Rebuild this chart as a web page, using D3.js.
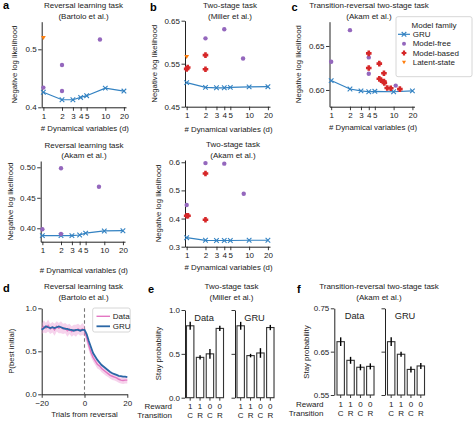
<!DOCTYPE html>
<html>
<head>
<meta charset="utf-8">
<script src="https://cdn.jsdelivr.net/npm/d3@7"></script>
<style>
  body { margin: 0; background: #fff; }
  text { font-family: "Liberation Sans", Arial, sans-serif; fill: #222; }
</style>
</head>
<body>
<div id="chart"></div>
<script>
// ---- data ----
const dims = [1, 2, 3, 4, 5, 10, 20];
const dimTicks = [1, 2, 3, 4, 5, 10, 20];

// a (top): reversal learning, Bartolo
const gruBartoloRev = [0.426, 0.413, 0.413, 0.417, 0.420, 0.433, 0.428];
const mfBartoloRev = [[1, 0.434], [2, 0.473], [2, 0.428], [8.2, 0.517]];
const lsBartoloRev = [[1, 0.520]];

// b (top): two-stage, Miller
const gruMiller = [0.506, 0.495, 0.494, 0.494, 0.495, 0.496, 0.4965];
const mfMiller = [[2, 0.609], [4, 0.630], [8, 0.562]];
const mbMiller = [[1, 0.538], [1.04, 0.541], [2, 0.570], [2, 0.537]];
const lsMiller = [[1, 0.566]];

// c: transition-reversal two-stage, Akam
const gruAkamTR = [0.6107, 0.6011, 0.599, 0.598, 0.5985, 0.598, 0.599];
const mfAkamTR = [[1, 0.632], [2, 0.668], [4, 0.637], [4, 0.6185], [10.8, 0.605]];
const mbAkamTR = [[4, 0.6416], [4, 0.625], [5.9, 0.630], [5.9, 0.6127], [6.3, 0.611],
                  [7, 0.619], [7, 0.6096], [7.1, 0.608], [7.9, 0.6023], [9, 0.602], [12.6, 0.601]];

// a (bottom): reversal learning, Akam
const gruAkamRev = [0.388, 0.388, 0.388, 0.389, 0.392, 0.3956, 0.396];
const mfAkamRev = [[1, 0.3984], [2, 0.3907], [2, 0.4984], [8.2, 0.468]];

// b (bottom): two-stage, Akam
const gruAkamTS = [0.332, 0.3228, 0.322, 0.322, 0.322, 0.323, 0.323];
const mfAkamTS = [[1, 0.448], [2, 0.597], [4, 0.595], [8.2, 0.488]];
const mbAkamTS = [[1, 0.41], [1.05, 0.41], [2, 0.560], [2, 0.396]];

// d: P(best initial) around reversal
const trials = [-20, -19, -18, -17, -16, -15, -14, -13, -12, -11, -10, -9, -8, -7, -6, -5, -4, -3, -2, -1,
                0, 1, 2, 3, 4, 5, 6, 7, 8, 9, 10, 11, 12, 13, 14, 15, 16, 17, 18, 19, 20];
const revData = [0.76, 0.79, 0.77, 0.80, 0.76, 0.78, 0.75, 0.79, 0.77, 0.78, 0.76, 0.77, 0.74, 0.76, 0.73, 0.75, 0.74, 0.76, 0.74, 0.76,
                 0.74, 0.66, 0.57, 0.49, 0.43, 0.39, 0.35, 0.33, 0.30, 0.28, 0.26, 0.24, 0.22, 0.21, 0.20, 0.19, 0.175, 0.165, 0.16, 0.165, 0.165];
const revSem = [0.06, 0.07, 0.06, 0.07, 0.06, 0.06, 0.07, 0.06, 0.06, 0.07, 0.06, 0.06, 0.07, 0.06, 0.06, 0.06, 0.07, 0.06, 0.06, 0.07,
                0.06, 0.06, 0.06, 0.055, 0.05, 0.05, 0.05, 0.045, 0.045, 0.045, 0.045, 0.04, 0.04, 0.045, 0.04, 0.04, 0.04, 0.04, 0.04, 0.04, 0.04];
const revGru = [0.75, 0.77, 0.79, 0.78, 0.77, 0.78, 0.77, 0.78, 0.79, 0.78, 0.77, 0.76, 0.76, 0.75, 0.75, 0.74, 0.75, 0.75, 0.74, 0.75,
                0.75, 0.70, 0.62, 0.55, 0.48, 0.44, 0.40, 0.37, 0.34, 0.32, 0.30, 0.28, 0.26, 0.245, 0.235, 0.225, 0.215, 0.21, 0.205, 0.205, 0.20];

// e, f: stay probabilities
const rewardLabels = ["1", "1", "0", "0"];
const transitionLabels = ["C", "R", "C", "R"];
const stayMillerData = [0.82, 0.46, 0.50, 0.79];
const stayMillerDataErr = [0.045, 0.025, 0.055, 0.03];
const stayMillerGru = [0.82, 0.48, 0.51, 0.80];
const stayMillerGruErr = [0.045, 0.02, 0.055, 0.03];
const stayAkamData = [0.673, 0.630, 0.614, 0.616];
const stayAkamDataErr = [0.010, 0.008, 0.007, 0.007];
const stayAkamGru = [0.673, 0.644, 0.609, 0.617];
const stayAkamGruErr = [0.010, 0.006, 0.007, 0.007];

// ---- styles ----
const gruColor = "#3382c2";
const mfColor = "#9467bd";
const mbColor = "#d62728";
const lsColor = "#ff7f0e";
const axisColor = "#222";

const svg = d3.select("#chart").append("svg")
    .attr("width", 474)
    .attr("height", 428);

const xMark = "M-2.3,-2.3L2.3,2.3M-2.3,2.3L2.3,-2.3";
const plusMark = "M-1.3,-2.8H1.3V-1.3H2.8V1.3H1.3V2.8H-1.3V1.3H-2.8V-1.3H-1.3Z";
const triMark = "M-2.4,-1.7L2.4,-1.7L0,2.3Z";

function styleAxis(sel) {
    sel.attr("font-size", 8).attr("font-family", null);
    sel.select(".domain").attr("stroke", axisColor).attr("stroke-width", 1);
    sel.selectAll(".tick line").attr("stroke", axisColor).attr("stroke-width", 0.9);
}

function addText(x, y, str, opts = {}) {
    const t = svg.append("text")
        .attr("x", x).attr("y", y)
        .attr("font-size", opts.size || 8)
        .attr("text-anchor", opts.anchor || "middle")
        .text(str);
    if (opts.weight) t.attr("font-weight", opts.weight).style("fill", "#000");
    if (opts.baseline) t.attr("dominant-baseline", opts.baseline);
    return t;
}

function addYLabel(x, y, str) {
    svg.append("text")
        .attr("transform", `translate(${x},${y}) rotate(-90)`)
        .attr("font-size", 7.8)
        .attr("text-anchor", "middle")
        .attr("dominant-baseline", "central")
        .text(str);
}

// log-x panel for the model comparisons
function drawLogPanel(p) {
    const x = d3.scaleLog().domain([0.94, 21.6]).range([p.left, p.right]);
    const y = d3.scaleLinear().domain(p.yDomain).range([p.bottom, p.top]);
    const g = svg.append("g");

    g.append("g")
        .attr("transform", `translate(0,${p.bottom})`)
        .call(d3.axisBottom(x).tickValues(dimTicks).tickFormat(d3.format("d"))
            .tickSize(3.5).tickPadding(2.5).tickSizeOuter(0))
        .call(styleAxis);
    g.append("g")
        .attr("transform", `translate(${p.left},0)`)
        .call(d3.axisLeft(y).tickValues(p.yTicks).tickFormat(d3.format(p.fmt))
            .tickSize(3.5).tickPadding(1.5).tickSizeOuter(0))
        .call(styleAxis);

    const line = d3.line().x(d => x(d[0])).y(d => y(d[1]));
    const gruPts = dims.map((d, i) => [d, p.gru[i]]);
    g.append("path").datum(gruPts)
        .attr("d", line).attr("fill", "none")
        .attr("stroke", gruColor).attr("stroke-width", 1.2);
    g.selectAll(".gx").data(gruPts).enter().append("path")
        .attr("transform", d => `translate(${x(d[0])},${y(d[1])})`)
        .attr("d", xMark).attr("stroke", gruColor).attr("stroke-width", 1.1).attr("fill", "none");

    (p.mf || []).forEach(d => {
        g.append("circle").attr("cx", x(d[0])).attr("cy", y(d[1])).attr("r", 2.2).attr("fill", mfColor);
    });
    (p.mb || []).forEach(d => {
        g.append("path").attr("transform", `translate(${x(d[0])},${y(d[1])})`)
            .attr("d", plusMark).attr("fill", mbColor);
    });
    (p.ls || []).forEach(d => {
        g.append("path").attr("transform", `translate(${x(d[0])},${y(d[1])})`)
            .attr("d", triMark).attr("fill", lsColor);
    });

    addText(p.titleX, p.titleY, p.title);
    addText(p.titleX, p.titleY + 10.5, p.subtitle);
    addText((p.left + p.right) / 2 + 1, p.xLabelY, "# Dynamical variables (d)", { size: 7.8, baseline: "central" });
    addYLabel(p.yLabelX, (p.top + p.bottom) / 2, "Negative log likelihood");
}

drawLogPanel({
    left: 41.7, right: 126, top: 21.7, bottom: 107.3,
    yDomain: [0.4, 0.5476], yTicks: [0.4, 0.5], fmt: ".1f",
    gru: gruBartoloRev, mf: mfBartoloRev, ls: lsBartoloRev,
    title: "Reversal learning task", subtitle: "(Bartolo et al.)",
    titleX: 83.5, titleY: 8, xLabelY: 128.3, yLabelX: 14
});
drawLogPanel({
    left: 185, right: 270, top: 20.7, bottom: 106.7,
    yDomain: [0.45, 0.65], yTicks: [0.45, 0.55, 0.65], fmt: ".2f",
    gru: gruMiller, mf: mfMiller, mb: mbMiller, ls: lsMiller,
    title: "Two-stage task", subtitle: "(Miller et al.)",
    titleX: 230, titleY: 8, xLabelY: 129.3, yLabelX: 154.5
});
drawLogPanel({
    left: 329.5, right: 414.5, top: 21.7, bottom: 106.7,
    yDomain: [0.581, 0.6776], yTicks: [0.60, 0.65], fmt: ".2f",
    gru: gruAkamTR, mf: mfAkamTR, mb: mbAkamTR,
    title: "Transition-reversal two-stage task", subtitle: "(Akam et al.)",
    titleX: 369, titleY: 8, xLabelY: 127.3, yLabelX: 298.5
});
drawLogPanel({
    left: 40.7, right: 125, top: 161, bottom: 241.7,
    yDomain: [0.378, 0.5103], yTicks: [0.40, 0.45, 0.50], fmt: ".2f",
    gru: gruAkamRev, mf: mfAkamRev,
    title: "Reversal learning task", subtitle: "(Akam et al.)",
    titleX: 84, titleY: 147.5, xLabelY: 270, yLabelX: 10.7
});
drawLogPanel({
    left: 185, right: 270, top: 160, bottom: 246.7,
    yDomain: [0.3, 0.608], yTicks: [0.3, 0.4, 0.5, 0.6], fmt: ".1f",
    gru: gruAkamTS, mf: mfAkamTS, mb: mbAkamTS,
    title: "Two-stage task", subtitle: "(Akam et al.)",
    titleX: 233, titleY: 147, xLabelY: 267.5, yLabelX: 158.3
});

// legend for panel c
(function () {
    const lg = svg.append("g");
    lg.append("rect").attr("x", 396).attr("y", 16.7).attr("width", 76).attr("height", 60)
        .attr("rx", 2).attr("fill", "#fff").attr("fill-opacity", 0.85)
        .attr("stroke", "#ccc").attr("stroke-width", 0.8);
    addText(434, 25, "Model family", { baseline: "central" });
    const rows = [
        { name: "GRU", y: 34.3 },
        { name: "Model-free", y: 43.7 },
        { name: "Model-based", y: 53 },
        { name: "Latent-state", y: 62.3 }
    ];
    rows.forEach(r => {
        const cx = 404;
        if (r.name === "GRU") {
            lg.append("line").attr("x1", 398).attr("x2", 410).attr("y1", r.y).attr("y2", r.y)
                .attr("stroke", gruColor).attr("stroke-width", 1.2);
            lg.append("path").attr("transform", `translate(${cx},${r.y})`).attr("d", xMark)
                .attr("stroke", gruColor).attr("stroke-width", 1.1).attr("fill", "none");
        } else if (r.name === "Model-free") {
            lg.append("circle").attr("cx", cx).attr("cy", r.y).attr("r", 2).attr("fill", mfColor);
        } else if (r.name === "Model-based") {
            lg.append("path").attr("transform", `translate(${cx},${r.y}) scale(0.85)`).attr("d", plusMark).attr("fill", mbColor);
        } else {
            lg.append("path").attr("transform", `translate(${cx},${r.y}) scale(0.85)`).attr("d", triMark).attr("fill", lsColor);
        }
        addText(412.7, r.y, r.name, { anchor: "start", baseline: "central" });
    });
})();

// panel d: reversal curve
(function () {
    const left = 41.7, right = 127.3, top = 308.3, bottom = 394.3;
    const x = d3.scaleLinear().domain([-20, 20]).range([left, right]);
    const y = d3.scaleLinear().domain([0, 1]).range([bottom, top]);
    const g = svg.append("g");

    g.append("g").attr("transform", `translate(0,${bottom})`)
        .call(d3.axisBottom(x).tickValues([-20, 0, 20]).tickFormat(d3.format("d"))
            .tickSize(3.5).tickPadding(2.5).tickSizeOuter(0))
        .call(styleAxis);
    g.append("g").attr("transform", `translate(${left},0)`)
        .call(d3.axisLeft(y).tickValues([0, 0.5, 1]).tickFormat(d3.format(".1f"))
            .tickSize(3.5).tickPadding(1.5).tickSizeOuter(0))
        .call(styleAxis);

    g.append("line").attr("x1", x(0)).attr("x2", x(0)).attr("y1", top).attr("y2", bottom)
        .attr("stroke", "#777").attr("stroke-width", 1.1).attr("stroke-dasharray", "3.5,2.5");

    const band = d3.area().x((d, i) => x(trials[i]))
        .y0((d, i) => y(revData[i] - revSem[i])).y1((d, i) => y(revData[i] + revSem[i]));
    g.append("path").datum(revData).attr("d", band).attr("fill", "#e990d0").attr("fill-opacity", 0.4);

    const line = d3.line().x((d, i) => x(trials[i])).y(d => y(d));
    g.append("path").datum(revData).attr("d", line).attr("fill", "none")
        .attr("stroke", "#e377c2").attr("stroke-width", 1.4);
    g.append("path").datum(revGru).attr("d", line).attr("fill", "none")
        .attr("stroke", "#2a67a6").attr("stroke-width", 1.8);

    // legend
    g.append("rect").attr("x", 92.7).attr("y", 308).attr("width", 37.5).attr("height", 24)
        .attr("rx", 2).attr("fill", "#fff").attr("fill-opacity", 0.85)
        .attr("stroke", "#ccc").attr("stroke-width", 0.8);
    g.append("line").attr("x1", 96.5).attr("x2", 110).attr("y1", 316.3).attr("y2", 316.3)
        .attr("stroke", "#e377c2").attr("stroke-width", 1.4);
    g.append("line").attr("x1", 96.5).attr("x2", 110).attr("y1", 326.3).attr("y2", 326.3)
        .attr("stroke", "#2a67a6").attr("stroke-width", 1.8);
    addText(112.7, 316.3, "Data", { anchor: "start", baseline: "central" });
    addText(112.7, 326.3, "GRU", { anchor: "start", baseline: "central" });

    addText(83.5, 289, "Reversal learning task");
    addText(83.5, 299.5, "(Bartolo et al.)");
    addText(84.5, 414, "Trials from reversal", { size: 7.8, baseline: "central" });
    addYLabel(11.7, (top + bottom) / 2, "P(best initial)");
})();

// bar sub-axis for e, f
function drawBars(b) {
    const xb = d3.scaleBand().domain([0, 1, 2, 3]).range(b.band).paddingInner(0.25).paddingOuter(0.15);
    const y = d3.scaleLinear().domain(b.yDomain).range([b.bottom, b.top]);
    const g = svg.append("g");

    const yAxis = d3.axisLeft(y).tickValues(b.yTicks).tickFormat(b.labels ? d3.format(b.fmt) : "")
        .tickSize(3.5).tickPadding(1.5).tickSizeOuter(0);
    g.append("g").attr("transform", `translate(${b.axisX},0)`).call(yAxis).call(styleAxis);

    const xAxis = g.append("g").attr("transform", `translate(0,${b.bottom})`)
        .call(d3.axisBottom(xb).tickFormat(i => rewardLabels[i]).tickSize(3).tickPadding(3))
        .call(styleAxis);
    xAxis.select(".domain").remove();
    xAxis.selectAll(".tick").append("text")
        .attr("y", 20.5).attr("font-size", 8).attr("text-anchor", "middle")
        .text(i => transitionLabels[i]);

    g.selectAll(".bar").data(b.values).enter().append("rect")
        .attr("x", (d, i) => xb(i)).attr("width", xb.bandwidth())
        .attr("y", d => y(d)).attr("height", d => b.bottom - y(d))
        .attr("fill", "#fff").attr("stroke", "#333").attr("stroke-width", 1.1);
    g.selectAll(".err").data(b.values).enter().append("line")
        .attr("x1", (d, i) => xb(i) + xb.bandwidth() / 2).attr("x2", (d, i) => xb(i) + xb.bandwidth() / 2)
        .attr("y1", (d, i) => y(d - b.errs[i])).attr("y2", (d, i) => y(d + b.errs[i]))
        .attr("stroke", "#000").attr("stroke-width", 1.4);

    addText((b.band[0] + b.band[1]) / 2 - 1, b.top + 10.5, b.name, { size: 9.3 });
}

// panel e
drawBars({ axisX: 185, band: [185, 225], top: 310, bottom: 397.7, yDomain: [0, 1],
    yTicks: [0, 0.5, 1], fmt: ".1f", labels: true,
    values: stayMillerData, errs: stayMillerDataErr, name: "Data" });
drawBars({ axisX: 235, band: [235.5, 275.5], top: 310, bottom: 397.7, yDomain: [0, 1],
    yTicks: [0, 0.5, 1], fmt: ".1f", labels: false,
    values: stayMillerGru, errs: stayMillerGruErr, name: "GRU" });
addText(231.5, 289, "Two-stage task");
addText(231.5, 299.5, "(Miller et al.)");
addYLabel(158.3, 353.5, "Stay probability");
addText(172, 406.5, "Reward", { anchor: "end", baseline: "central" });
addText(172, 415.5, "Transition", { anchor: "end", baseline: "central" });

// panel f
drawBars({ axisX: 334.3, band: [335.5, 375.5], top: 308.3, bottom: 395, yDomain: [0.55, 0.75],
    yTicks: [0.55, 0.65, 0.75], fmt: ".2f", labels: true,
    values: stayAkamData, errs: stayAkamDataErr, name: "Data" });
drawBars({ axisX: 385, band: [386, 426], top: 308.3, bottom: 395, yDomain: [0.55, 0.75],
    yTicks: [0.55, 0.65, 0.75], fmt: ".2f", labels: false,
    values: stayAkamGru, errs: stayAkamGruErr, name: "GRU" });
addText(379, 289, "Transition-reversal two-stage task");
addText(379, 299.5, "(Akam et al.)");
addYLabel(306, 352, "Stay probability");
addText(323.5, 404.5, "Reward", { anchor: "end", baseline: "central" });
addText(323.5, 413.5, "Transition", { anchor: "end", baseline: "central" });

// panel letters
[["a", 3, 9], ["b", 150, 10.5], ["c", 291.5, 11], ["d", 3, 292], ["e", 148, 292.5], ["f", 297, 292.5]]
    .forEach(l => addText(l[1], l[2], l[0], { size: 11, anchor: "start", weight: "bold" }));
</script>
</body>
</html>
